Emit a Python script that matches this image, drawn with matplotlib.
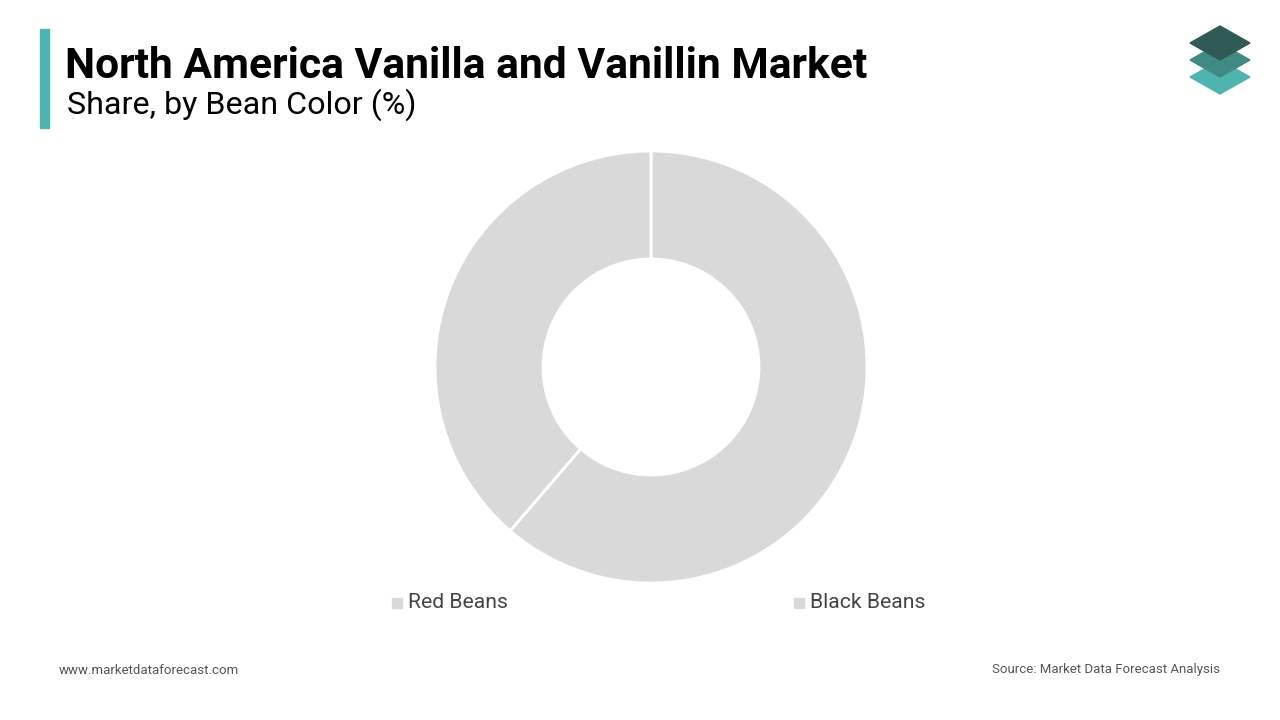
import matplotlib
matplotlib.use("Agg")
import matplotlib.pyplot as plt
from matplotlib.patches import Polygon, Rectangle

# data
labels = ['Red Beans', 'Black Beans']
shares = [61.3, 38.7]
colors = ['#d9d9d9', '#d9d9d9']

fig = plt.figure(figsize=(12.8, 7.2), dpi=100)
fig.patch.set_facecolor('white')

# title block
fig.patches.append(Rectangle((40/1280, 1 - 128/720), 9/1280, 99/720,
                             transform=fig.transFigure, color='#4fb3b0'))
fig.text(65/1280, 1 - 66/720, 'North America Vanilla and Vanillin Market',
         fontsize=30.7, fontweight='bold', family='Roboto', va='center')
fig.text(67/1280, 1 - 105/720, 'Share, by Bean Color (%)',
         fontsize=23.2, family='Roboto', va='center')

# logo, three stacked diamonds
for cy, col in [(77, '#4fb3b0'), (60, '#3f8a83'), (43, '#2f5a55')]:
    pts = [(1190, cy), (1220, cy - 17), (1250, cy), (1220, cy + 17)]
    fig.patches.append(Polygon([(x / 1280, 1 - y / 720) for x, y in pts],
                               transform=fig.transFigure, color=col))

ax = fig.add_axes([(651 - 216) / 1280, 1 - (367 + 216) / 720, 432 / 1280, 432 / 720])
ax.pie(shares, colors=colors, startangle=90, counterclock=False,
       wedgeprops=dict(width=0.5, edgecolor='white', linewidth=2))
ax.set_xlim(-1, 1)
ax.set_ylim(-1, 1)
ax.set_aspect('equal')

# legend
for x, lab in [(392, labels[0]), (794, labels[1])]:
    fig.patches.append(Rectangle((x / 1280, 1 - 608 / 720), 10 / 1280, 10 / 720,
                                 transform=fig.transFigure, color='#d9d9d9'))
    fig.text((x + 16) / 1280, 1 - 603 / 720, lab, fontsize=15.2, family='Roboto',
             color='#444444', va='center')

fig.text(59/1280, 1 - 670/720, 'www.marketdataforecast.com', fontsize=9.5,
         family='Roboto', color='#555555', va='center')
fig.text(1220/1280, 1 - 670/720, 'Source: Market Data Forecast Analysis', fontsize=9.5,
         family='Roboto', color='#555555', va='center', ha='right')

fig.savefig('out.png', dpi=100)
